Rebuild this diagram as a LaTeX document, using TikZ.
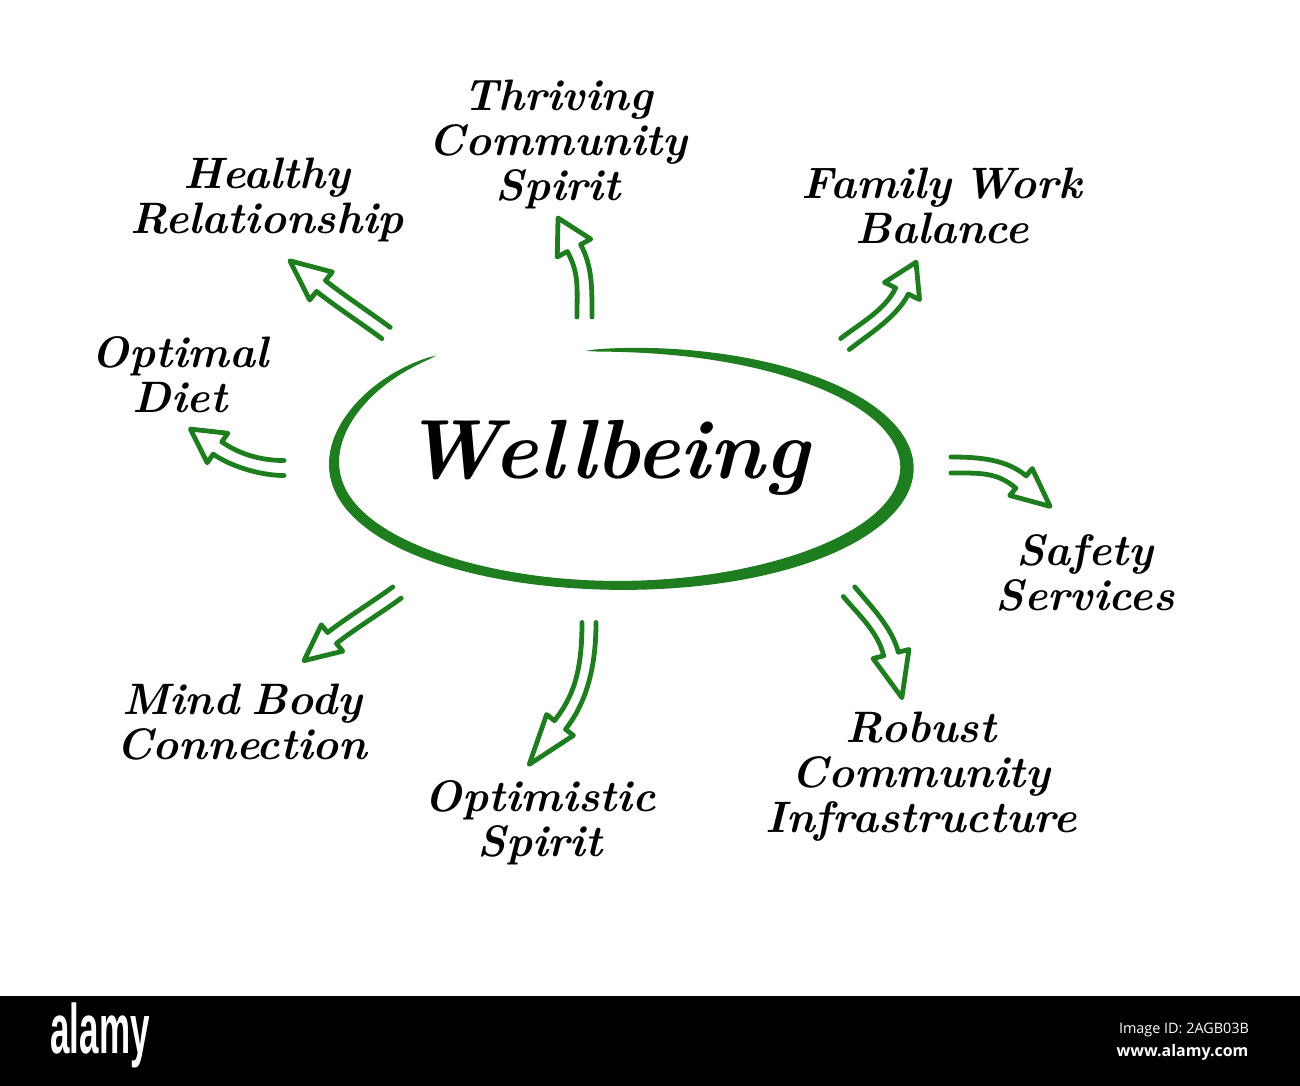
\documentclass[tikz,border=0pt]{standalone}
\usepackage{fontspec}
\newfontfamily\bandfont{Liberation Sans}
\newfontfamily\urlfont{Open Sans}
\usetikzlibrary{calc}
\definecolor{brushgreen}{RGB}{30,125,30}
\tikzset{
  lbl/.style={font=\fontsize{22}{22.5}\selectfont\bfseries\itshape, align=center, inner sep=0pt, text=black},
  title/.style={font=\fontsize{42}{42}\selectfont\bfseries\itshape, inner sep=0pt, text=black},
  arrowline/.style={draw=brushgreen, line width=2.4pt, line join=round, line cap=round},
  bandtext/.style={text=white, inner sep=0pt, anchor=base}
}
% #1 tail, #2 tail angle, #3 head base, #4 head angle, #5 #6 control lengths, #7 half shaft, #8 half head, #9 head length
\newcommand{\hollowarrow}[9]{%
  \draw[arrowline] ($(#1)+(#2+90:#7)$) .. controls ($(#1)+(#2+90:#7)+(#2:#5)$) and ($(#3)+(#4+90:#7)+(#4+180:#6)$) .. ($(#3)+(#4+90:#7)$)
    -- ($(#3)+(#4+90:#8)$) -- ($(#3)+(#4:#9)$) -- ($(#3)+(#4-90:#8)$) -- ($(#3)+(#4-90:#7)$)
    .. controls ($(#3)+(#4-90:#7)+(#4+180:#6)$) and ($(#1)+(#2-90:#7)+(#2:#5)$) .. ($(#1)+(#2-90:#7)$);}
\newcommand{\wsp}{\hspace{0.28em}}
\begin{document}
\begin{tikzpicture}[x=0.5pt,y=-0.5pt,
  declare function={bw(\t)=15*sqrt(abs(sin(((\t-130)/327)*180)))*(1-0.4*exp(max(-20,-((\t-265)/45)*((\t-265)/45))));
                    bump(\t)=-22*exp(max(-20,-((\t-130)/40)*((\t-130)/40)));}]
\useasboundingbox (0,0) rectangle (1300,1086);
\fill[white] (0,0) rectangle (1300,1086);

% central brush ellipse
\fill[brushgreen] plot[domain=130:457, samples=160, variable=\t]
   ({620.5+(286.5+0.5*bw(\t))*cos(\t)}, {467.7+bump(\t)-(117.7+0.5*bw(\t))*sin(\t)})
   -- plot[domain=457:130, samples=160, variable=\t]
   ({620.5+(286.5-0.5*bw(\t))*cos(\t)}, {467.7+bump(\t)-(117.7-0.5*bw(\t))*sin(\t)}) -- cycle;
\node[title] (well) at (606,458) {Wellbeing};

% labels
\node[lbl] (thriving) at (558,144) {Thriving\\Community\\Spirit};
\node[lbl] (healthy) at (267,200) {Healthy\\Relationship};
\node[lbl] (family) at (942,206) {Family\wsp Work\\Balance};
\node[lbl] (diet) at (180,375) {Optimal\\Diet};
\node[lbl] (safety) at (1085,573) {Safety\\Services};
\node[lbl] (mind) at (242,722) {Mind\wsp Body\\Connection};
\node[lbl] (optim) at (540,823) {Optimistic\\Spirit};
\node[lbl] (robust) at (921,777) {Robust\\Community\\Infrastructure};

% arrow anchor coordinates
\coordinate (hrT) at (386,333);   \coordinate (hrB) at (321,286);
\coordinate (thT) at (584.5,317); \coordinate (thB) at (574,248);
\coordinate (fwT) at (845,344);   \coordinate (fwB) at (902,291);
\coordinate (ssT) at (951,465);   \coordinate (ssB) at (1021,482);
\coordinate (mbT) at (397,592.5); \coordinate (mbB) at (332,638);
\coordinate (osT) at (589,622.5); \coordinate (osB) at (560,725);
\coordinate (rcT) at (849,591.7); \coordinate (rcB) at (891,654);
\coordinate (odT) at (284,468);   \coordinate (odB) at (217.5,448);

\hollowarrow{hrT}{217}{hrB}{219}{20}{20}{7}{18}{40}
\hollowarrow{thT}{270}{thB}{242}{30}{25}{7.5}{19}{34}
\hollowarrow{fwT}{-38}{fwB}{-64}{25}{25}{7}{19.5}{32}
\hollowarrow{ssT}{0}{ssB}{40}{30}{25}{8}{17.5}{38}
\hollowarrow{mbT}{143}{mbB}{141}{20}{20}{7}{17}{36}
\hollowarrow{osT}{90}{osB}{128}{50}{30}{7}{17}{50}
\hollowarrow{rcT}{50}{rcB}{76}{25}{25}{7.5}{18.5}{45}
\hollowarrow{odT}{180}{odB}{215}{25}{20}{7.5}{18}{33}

% bottom band
\fill[black] (0,996) rectangle (1300,1086);
\node[bandtext] (alamy) at (100,1053) {\scalebox{0.5}[1]{\bandfont\bfseries\fontsize{35}{35}\selectfont alamy}};
\node[bandtext] (imgid) at (1184,1033) {\urlfont\fontsize{7.2}{8}\selectfont Image ID: 2AGB03B};
\node[bandtext] (url) at (1182.5,1056.7) {\urlfont\bfseries\fontsize{8}{9}\selectfont www.alamy.com};
\end{tikzpicture}
\end{document}
